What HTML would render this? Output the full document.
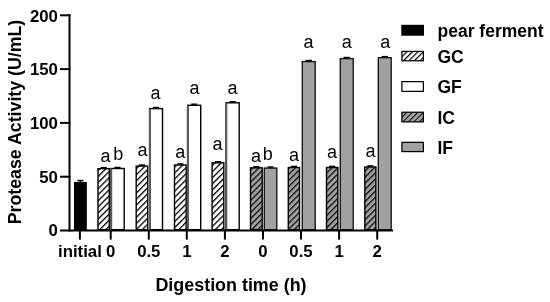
<!DOCTYPE html>
<html><head><meta charset="utf-8"><title>Protease Activity</title>
<style>html,body{margin:0;padding:0;background:#fff;}body{width:550px;height:302px;overflow:hidden;}svg{display:block;}</style>
</head><body>
<svg width="550" height="302" viewBox="0 0 550 302">
<defs>
<pattern id="hw" patternUnits="userSpaceOnUse" width="4.3" height="4.3" patternTransform="rotate(45)">
<rect width="4.3" height="4.3" fill="#fff"/><rect x="0" y="0" width="1.3" height="4.3" fill="#000"/></pattern>
<pattern id="hg" patternUnits="userSpaceOnUse" width="4.3" height="4.3" patternTransform="rotate(45)">
<rect width="4.3" height="4.3" fill="#a1a1a1"/><rect x="0" y="0" width="1.35" height="4.3" fill="#111"/></pattern>
<pattern id="lw" patternUnits="userSpaceOnUse" width="3.9" height="3.9" patternTransform="rotate(45)">
<rect width="3.9" height="3.9" fill="#fff"/><rect x="0" y="0" width="1.2" height="3.9" fill="#000"/></pattern>
<pattern id="lg" patternUnits="userSpaceOnUse" width="3.9" height="3.9" patternTransform="rotate(45)">
<rect width="3.9" height="3.9" fill="#a5a5a5"/><rect x="0" y="0" width="1.1" height="3.9" fill="#111"/></pattern>
</defs>
<rect x="74.70" y="182.60" width="11.40" height="47.10" fill="#000" stroke="#000" stroke-width="1.4"/>
<line x1="77.30" y1="180.50" x2="83.50" y2="180.50" stroke="#000" stroke-width="1.4"/><line x1="80.40" y1="180.50" x2="80.40" y2="182.40" stroke="#000" stroke-width="1.4"/>
<rect x="98.00" y="168.70" width="11.30" height="61.00" fill="url(#hw)" stroke="#000" stroke-width="1.4"/>
<line x1="100.55" y1="167.60" x2="106.75" y2="167.60" stroke="#000" stroke-width="1.4"/><line x1="103.65" y1="167.60" x2="103.65" y2="168.50" stroke="#000" stroke-width="1.4"/>
<rect x="110.90" y="168.50" width="13.30" height="61.20" fill="#fff" stroke="#000" stroke-width="1.4"/>
<rect x="110.00" y="168.80" width="2.2" height="60.90" fill="#5a5a5a"/>
<line x1="114.45" y1="167.40" x2="120.65" y2="167.40" stroke="#000" stroke-width="1.4"/><line x1="117.55" y1="167.40" x2="117.55" y2="168.30" stroke="#000" stroke-width="1.4"/>
<rect x="136.20" y="166.10" width="11.50" height="63.60" fill="url(#hw)" stroke="#000" stroke-width="1.4"/>
<line x1="138.85" y1="165.00" x2="145.05" y2="165.00" stroke="#000" stroke-width="1.4"/><line x1="141.95" y1="165.00" x2="141.95" y2="165.90" stroke="#000" stroke-width="1.4"/>
<rect x="149.70" y="108.60" width="12.80" height="121.10" fill="#fff" stroke="#000" stroke-width="1.4"/>
<rect x="148.80" y="108.90" width="2.2" height="120.80" fill="#5a5a5a"/>
<line x1="153.00" y1="107.50" x2="159.20" y2="107.50" stroke="#000" stroke-width="1.4"/><line x1="156.10" y1="107.50" x2="156.10" y2="108.40" stroke="#000" stroke-width="1.4"/>
<rect x="174.50" y="165.00" width="11.70" height="64.70" fill="url(#hw)" stroke="#000" stroke-width="1.4"/>
<line x1="177.25" y1="163.90" x2="183.45" y2="163.90" stroke="#000" stroke-width="1.4"/><line x1="180.35" y1="163.90" x2="180.35" y2="164.80" stroke="#000" stroke-width="1.4"/>
<rect x="187.70" y="105.30" width="13.00" height="124.40" fill="#fff" stroke="#000" stroke-width="1.4"/>
<rect x="186.80" y="105.60" width="2.2" height="124.10" fill="#5a5a5a"/>
<line x1="191.10" y1="104.20" x2="197.30" y2="104.20" stroke="#000" stroke-width="1.4"/><line x1="194.20" y1="104.20" x2="194.20" y2="105.10" stroke="#000" stroke-width="1.4"/>
<rect x="212.10" y="162.80" width="11.70" height="66.90" fill="url(#hw)" stroke="#000" stroke-width="1.4"/>
<line x1="214.85" y1="161.70" x2="221.05" y2="161.70" stroke="#000" stroke-width="1.4"/><line x1="217.95" y1="161.70" x2="217.95" y2="162.60" stroke="#000" stroke-width="1.4"/>
<rect x="226.00" y="102.80" width="13.20" height="126.90" fill="#fff" stroke="#000" stroke-width="1.4"/>
<rect x="225.10" y="103.10" width="2.2" height="126.60" fill="#5a5a5a"/>
<line x1="229.50" y1="101.70" x2="235.70" y2="101.70" stroke="#000" stroke-width="1.4"/><line x1="232.60" y1="101.70" x2="232.60" y2="102.60" stroke="#000" stroke-width="1.4"/>
<rect x="250.50" y="167.80" width="11.70" height="61.90" fill="url(#hg)" stroke="#000" stroke-width="1.4"/>
<line x1="253.25" y1="166.70" x2="259.45" y2="166.70" stroke="#000" stroke-width="1.4"/><line x1="256.35" y1="166.70" x2="256.35" y2="167.60" stroke="#000" stroke-width="1.4"/>
<rect x="264.30" y="168.10" width="12.50" height="61.60" fill="#a1a1a1" stroke="#1a1a1a" stroke-width="1.4"/>
<line x1="267.45" y1="167.00" x2="273.65" y2="167.00" stroke="#000" stroke-width="1.4"/><line x1="270.55" y1="167.00" x2="270.55" y2="167.90" stroke="#000" stroke-width="1.4"/>
<rect x="288.30" y="167.50" width="11.20" height="62.20" fill="url(#hg)" stroke="#000" stroke-width="1.4"/>
<line x1="290.80" y1="166.40" x2="297.00" y2="166.40" stroke="#000" stroke-width="1.4"/><line x1="293.90" y1="166.40" x2="293.90" y2="167.30" stroke="#000" stroke-width="1.4"/>
<rect x="302.30" y="61.60" width="12.90" height="168.10" fill="#a1a1a1" stroke="#1a1a1a" stroke-width="1.4"/>
<line x1="305.65" y1="60.50" x2="311.85" y2="60.50" stroke="#000" stroke-width="1.4"/><line x1="308.75" y1="60.50" x2="308.75" y2="61.40" stroke="#000" stroke-width="1.4"/>
<rect x="326.50" y="167.50" width="11.40" height="62.20" fill="url(#hg)" stroke="#000" stroke-width="1.4"/>
<line x1="329.10" y1="166.40" x2="335.30" y2="166.40" stroke="#000" stroke-width="1.4"/><line x1="332.20" y1="166.40" x2="332.20" y2="167.30" stroke="#000" stroke-width="1.4"/>
<rect x="340.30" y="58.60" width="12.90" height="171.10" fill="#a1a1a1" stroke="#1a1a1a" stroke-width="1.4"/>
<line x1="343.65" y1="57.50" x2="349.85" y2="57.50" stroke="#000" stroke-width="1.4"/><line x1="346.75" y1="57.50" x2="346.75" y2="58.40" stroke="#000" stroke-width="1.4"/>
<rect x="364.80" y="167.00" width="11.10" height="62.70" fill="url(#hg)" stroke="#000" stroke-width="1.4"/>
<line x1="367.25" y1="165.90" x2="373.45" y2="165.90" stroke="#000" stroke-width="1.4"/><line x1="370.35" y1="165.90" x2="370.35" y2="166.80" stroke="#000" stroke-width="1.4"/>
<rect x="378.30" y="57.70" width="12.90" height="172.00" fill="#a1a1a1" stroke="#1a1a1a" stroke-width="1.4"/>
<line x1="381.65" y1="56.60" x2="387.85" y2="56.60" stroke="#000" stroke-width="1.4"/><line x1="384.75" y1="56.60" x2="384.75" y2="57.50" stroke="#000" stroke-width="1.4"/>
<line x1="69.5" y1="14.4" x2="69.5" y2="231.60" stroke="#000" stroke-width="2"/>
<line x1="60" y1="230.6" x2="393" y2="230.6" stroke="#000" stroke-width="2"/>
<line x1="60" y1="15.3" x2="70.5" y2="15.3" stroke="#000" stroke-width="2"/>
<line x1="60" y1="69.1" x2="70.5" y2="69.1" stroke="#000" stroke-width="2"/>
<line x1="60" y1="122.9" x2="70.5" y2="122.9" stroke="#000" stroke-width="2"/>
<line x1="60" y1="176.7" x2="70.5" y2="176.7" stroke="#000" stroke-width="2"/>
<line x1="79.9" y1="230.6" x2="79.9" y2="239.6" stroke="#000" stroke-width="2"/>
<line x1="110.7" y1="230.6" x2="110.7" y2="239.6" stroke="#000" stroke-width="2"/>
<line x1="148.8" y1="230.6" x2="148.8" y2="239.6" stroke="#000" stroke-width="2"/>
<line x1="186.8" y1="230.6" x2="186.8" y2="239.6" stroke="#000" stroke-width="2"/>
<line x1="224.9" y1="230.6" x2="224.9" y2="239.6" stroke="#000" stroke-width="2"/>
<line x1="263.0" y1="230.6" x2="263.0" y2="239.6" stroke="#000" stroke-width="2"/>
<line x1="301.0" y1="230.6" x2="301.0" y2="239.6" stroke="#000" stroke-width="2"/>
<line x1="339.1" y1="230.6" x2="339.1" y2="239.6" stroke="#000" stroke-width="2"/>
<line x1="377.2" y1="230.6" x2="377.2" y2="239.6" stroke="#000" stroke-width="2"/>
<text x="57.9" y="21.9" font-family="Liberation Sans, Arial, sans-serif" font-weight="bold" font-size="16.8" text-anchor="end">200</text>
<text x="57.9" y="75.0" font-family="Liberation Sans, Arial, sans-serif" font-weight="bold" font-size="16.8" text-anchor="end">150</text>
<text x="57.9" y="128.8" font-family="Liberation Sans, Arial, sans-serif" font-weight="bold" font-size="16.8" text-anchor="end">100</text>
<text x="57.9" y="182.6" font-family="Liberation Sans, Arial, sans-serif" font-weight="bold" font-size="16.8" text-anchor="end">50</text>
<text x="57.9" y="236.4" font-family="Liberation Sans, Arial, sans-serif" font-weight="bold" font-size="16.8" text-anchor="end">0</text>
<text x="79.9" y="256.7" font-family="Liberation Sans, Arial, sans-serif" font-weight="bold" font-size="16.8" text-anchor="middle">initial</text>
<text x="110.7" y="256.7" font-family="Liberation Sans, Arial, sans-serif" font-weight="bold" font-size="16.8" text-anchor="middle">0</text>
<text x="148.8" y="256.7" font-family="Liberation Sans, Arial, sans-serif" font-weight="bold" font-size="16.8" text-anchor="middle">0.5</text>
<text x="186.8" y="256.7" font-family="Liberation Sans, Arial, sans-serif" font-weight="bold" font-size="16.8" text-anchor="middle">1</text>
<text x="224.9" y="256.7" font-family="Liberation Sans, Arial, sans-serif" font-weight="bold" font-size="16.8" text-anchor="middle">2</text>
<text x="263.0" y="256.7" font-family="Liberation Sans, Arial, sans-serif" font-weight="bold" font-size="16.8" text-anchor="middle">0</text>
<text x="301.0" y="256.7" font-family="Liberation Sans, Arial, sans-serif" font-weight="bold" font-size="16.8" text-anchor="middle">0.5</text>
<text x="339.1" y="256.7" font-family="Liberation Sans, Arial, sans-serif" font-weight="bold" font-size="16.8" text-anchor="middle">1</text>
<text x="377.2" y="256.7" font-family="Liberation Sans, Arial, sans-serif" font-weight="bold" font-size="16.8" text-anchor="middle">2</text>
<text x="231" y="290.9" font-family="Liberation Sans, Arial, sans-serif" font-weight="bold" font-size="17.9" text-anchor="middle">Digestion time (h)</text>
<text transform="translate(20.6,122) rotate(-90)" x="0" y="0" font-family="Liberation Sans, Arial, sans-serif" font-weight="bold" font-size="17.75" text-anchor="middle">Protease Activity (U/mL)</text>
<rect x="401.925" y="25.425" width="21.44999999999999" height="9.650000000000002" fill="#000" stroke="#000" stroke-width="1.25"/>
<text x="437.5" y="36.8" font-family="Liberation Sans, Arial, sans-serif" font-weight="bold" font-size="17.5">pear ferment</text>
<rect x="401.925" y="51.425" width="21.44999999999999" height="9.350000000000001" fill="url(#lw)" stroke="#000" stroke-width="1.25"/>
<text x="437.5" y="63.0" font-family="Liberation Sans, Arial, sans-serif" font-weight="bold" font-size="17.5">GC</text>
<rect x="401.925" y="81.625" width="21.44999999999999" height="9.75" fill="#fff" stroke="#000" stroke-width="1.25"/>
<text x="437.5" y="93.0" font-family="Liberation Sans, Arial, sans-serif" font-weight="bold" font-size="17.5">GF</text>
<rect x="401.925" y="112.225" width="21.44999999999999" height="9.650000000000006" fill="url(#lg)" stroke="#000" stroke-width="1.25"/>
<text x="437.5" y="124.0" font-family="Liberation Sans, Arial, sans-serif" font-weight="bold" font-size="17.5">IC</text>
<rect x="401.925" y="142.325" width="21.44999999999999" height="9.25" fill="#a1a1a1" stroke="#000" stroke-width="1.25"/>
<text x="437.5" y="153.8" font-family="Liberation Sans, Arial, sans-serif" font-weight="bold" font-size="17.5">IF</text>
<text x="105.5" y="162.3" font-family="Liberation Sans, Arial, sans-serif" font-size="18" text-anchor="middle">a</text>
<text x="118.2" y="159.9" font-family="Liberation Sans, Arial, sans-serif" font-size="18" text-anchor="middle">b</text>
<text x="142.4" y="155.9" font-family="Liberation Sans, Arial, sans-serif" font-size="18" text-anchor="middle">a</text>
<text x="155.5" y="98.8" font-family="Liberation Sans, Arial, sans-serif" font-size="18" text-anchor="middle">a</text>
<text x="180.3" y="158.4" font-family="Liberation Sans, Arial, sans-serif" font-size="18" text-anchor="middle">a</text>
<text x="194.5" y="94.0" font-family="Liberation Sans, Arial, sans-serif" font-size="18" text-anchor="middle">a</text>
<text x="217.4" y="149.7" font-family="Liberation Sans, Arial, sans-serif" font-size="18" text-anchor="middle">a</text>
<text x="232.4" y="94.0" font-family="Liberation Sans, Arial, sans-serif" font-size="18" text-anchor="middle">a</text>
<text x="256.1" y="162.3" font-family="Liberation Sans, Arial, sans-serif" font-size="18" text-anchor="middle">a</text>
<text x="267.8" y="159.8" font-family="Liberation Sans, Arial, sans-serif" font-size="18" text-anchor="middle">b</text>
<text x="294.1" y="161.1" font-family="Liberation Sans, Arial, sans-serif" font-size="18" text-anchor="middle">a</text>
<text x="308.6" y="48.0" font-family="Liberation Sans, Arial, sans-serif" font-size="18" text-anchor="middle">a</text>
<text x="332.0" y="158.2" font-family="Liberation Sans, Arial, sans-serif" font-size="18" text-anchor="middle">a</text>
<text x="346.7" y="48.0" font-family="Liberation Sans, Arial, sans-serif" font-size="18" text-anchor="middle">a</text>
<text x="370.4" y="156.6" font-family="Liberation Sans, Arial, sans-serif" font-size="18" text-anchor="middle">a</text>
<text x="385.3" y="48.0" font-family="Liberation Sans, Arial, sans-serif" font-size="18" text-anchor="middle">a</text>
</svg>
</body></html>
